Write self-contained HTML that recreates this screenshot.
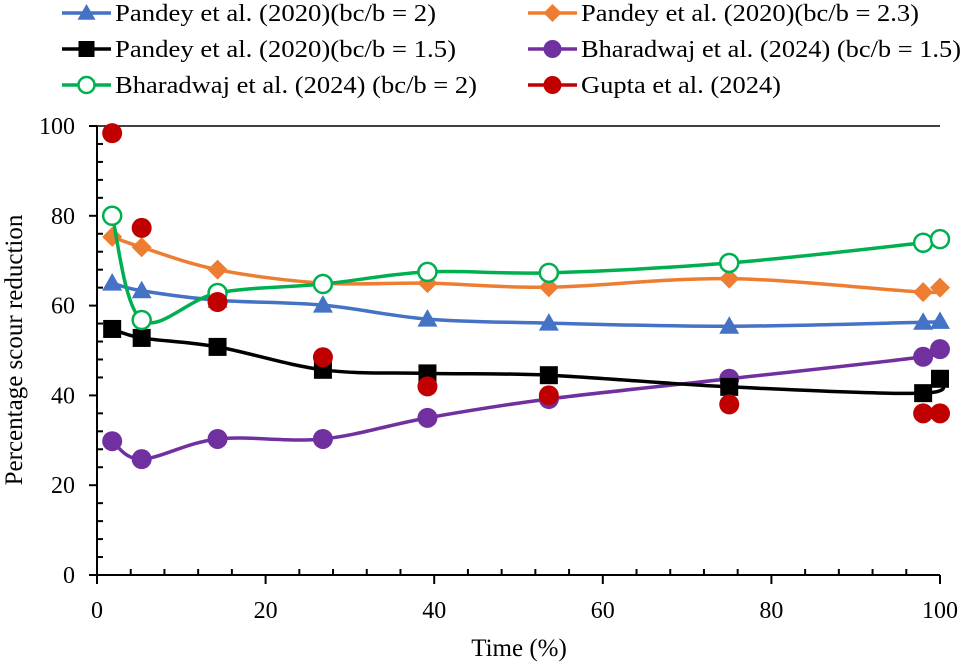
<!DOCTYPE html>
<html><head><meta charset="utf-8"><style>
body{margin:0;background:#fff;}
svg text{font-family:"Liberation Serif",serif;}
</style></head><body>
<svg id="chart" width="964" height="664" xmlns="http://www.w3.org/2000/svg">
<g id="legend"></g>
<g id="axes"></g>
<g id="series"></g>
<text x="519" y="656" font-size="25" text-anchor="middle">Time (%)</text>
<text transform="translate(22,350) rotate(-90)" font-size="25" text-anchor="middle">Percentage scour reduction</text>
</svg>
<script>
const xs = [1.8, 5.3, 14.3, 26.8, 39.2, 53.6, 75, 98, 100];
const pandey2 = [65, 63.3, 61.2, 60.1, 57.0, 56.1, 55.4, 56.3, 56.5];
const pandey23 = [75.3, 73, 68, 65, 65.0, 64.1, 66, 63, 64];
const pandey15 = [54.8, 52.8, 50.8, 45.7, 44.9, 44.5, 41.9, 40.5, 43.7];
const bhar15 = [29.8, 25.8, 30.3, 30.3, 35, 39.2, 43.7, 48.6, 50.3];
const bhar2 = [80, 56.8, 62.8, 64.8, 67.5, 67.3, 69.5, 74, 74.8];
const gupta = [98.4, 77.3, 60.8, 48.5, 42, 40, 38, 36, 36];
const xTicks = [0, 20, 40, 60, 80, 100];
const yTicks = [0, 20, 40, 60, 80, 100];
const X0=97, X1=940, Y0=575, Y1=126;
const sx = v => X0 + (X1-X0)*v/100;
const sy = v => Y0 - (Y0-Y1)*v/100;
const NS="http://www.w3.org/2000/svg";
function mk(tag, attrs, parent){const e=document.createElementNS(NS,tag);for(const k in attrs)e.setAttribute(k,attrs[k]);parent.appendChild(e);return e;}
const axes=document.getElementById('axes');
const ax=mk('path',{d:`M${X0},${Y1}V${Y0}H${X1}`,stroke:'#000','stroke-width':2,fill:'none'},axes);


const fr=mk('path',{d:`M${X0},${Y1}H${X1}`,stroke:'#000','stroke-width':1.5,fill:'none'},axes);


for(let v=0; v<=100; v+=4){
  const major = v%20===0;
  const t=mk('line',{x1:major?X0-8:X0,x2:major?X0:X0+6,y1:sy(v),y2:sy(v),stroke:'#000','stroke-width':2},axes);
  
  
  const u=mk('line',{x1:sx(v),x2:sx(v),y1:major?Y0:Y0-6,y2:major?Y0+9:Y0,stroke:'#000','stroke-width':2},axes);
  
  
}
yTicks.forEach(v=>{
  const t=mk('text',{x:X0-22,y:sy(v)+8,'font-size':24,'text-anchor':'end'},axes);t.textContent=v;
  
  
});
xTicks.forEach(v=>{
  const t=mk('text',{x:sx(v),y:Y0+43,'font-size':24,'text-anchor':'middle'},axes);t.textContent=v;
  
  
});
function smooth(pts){
  let d=`M${pts[0][0]},${pts[0][1]}`;
  for(let i=0;i<pts.length-1;i++){
    const p0=pts[i-1]||pts[i],p1=pts[i],p2=pts[i+1],p3=pts[i+2]||p2;
    const c1=[p1[0]+(p2[0]-p0[0])/6,p1[1]+(p2[1]-p0[1])/6];
    const c2=[p2[0]-(p3[0]-p1[0])/6,p2[1]-(p3[1]-p1[1])/6];
    d+=`C${c1[0]},${c1[1]} ${c2[0]},${c2[1]} ${p2[0]},${p2[1]}`;
  }
  return d;
}
function marker(g,type,x,y,color,s){
  let e;
  if(type==='tri') e=mk('path',{d:`M${x},${y-s}L${x+s},${y+s*0.75}L${x-s},${y+s*0.75}Z`,fill:color},g);
  else if(type==='dia') e=mk('path',{d:`M${x},${y-s}L${x+s},${y}L${x},${y+s}L${x-s},${y}Z`,fill:color},g);
  else if(type==='sq') e=mk('rect',{x:x-s,y:y-s,width:2*s,height:2*s,fill:color},g);
  else if(type==='ring') e=mk('circle',{cx:x,cy:y,r:s-1,fill:'#fff',stroke:color,'stroke-width':2.5},g);
  else e=mk('circle',{cx:x,cy:y,r:s,fill:color},g);
  
  
}
const seriesDefs=[
 {name:'pandey-2',vals:pandey2,color:'#4472C4',m:'tri',s:10,line:true,label:'Pandey et al. (2020)(bc/b = 2)',w:321},
 {name:'pandey-2-3',vals:pandey23,color:'#ED7D31',m:'dia',s:10,line:true,label:'Pandey et al. (2020)(bc/b = 2.3)',w:338},
 {name:'pandey-1-5',vals:pandey15,color:'#000000',m:'sq',s:9,line:true,label:'Pandey et al. (2020)(bc/b = 1.5)',w:341},
 {name:'bharadwaj-1-5',vals:bhar15,color:'#7030A0',m:'dot',s:10,line:true,label:'Bharadwaj et al. (2024) (bc/b = 1.5)',w:380},
 {name:'bharadwaj-2',vals:bhar2,color:'#00B050',m:'ring',s:10,line:true,label:'Bharadwaj et al. (2024) (bc/b = 2)',w:362},
 {name:'gupta',vals:gupta,color:'#C00000',m:'dot',s:10,line:false,label:'Gupta et al. (2024)',w:200}
];
const sg=document.getElementById('series');
const order=[3,2,0,1,4,5];
order.forEach(i=>{
  const sd=seriesDefs[i];
  const g=mk('g',{},sg);
  
  
  const pts=xs.map((x,j)=>[sx(x),sy(sd.vals[j])]);
  if(sd.line){
    const p=mk('path',{d:smooth(pts),stroke:sd.color,'stroke-width':3.5,fill:'none'},g);
    
    
  }
  pts.forEach(p=>marker(g,sd.m,p[0],p[1],sd.color,sd.s));
});
const lg=document.getElementById('legend');
const lpos=[[62,13],[528,13],[62,49],[528,49],[62,85],[528,85]];
seriesDefs.forEach((sd,i)=>{
  const [x,y]=lpos[i];
  const g=mk('g',{},lg);
  
  
  mk('line',{x1:x,x2:x+49,y1:y,y2:y,stroke:sd.color,'stroke-width':3.5},g);
  marker(g,sd.m,x+24.5,y,sd.color,sd.m==='sq'?8:9);
  const t=mk('text',{x:x+53,y:y+8,'font-size':24,textLength:sd.w,lengthAdjust:'spacingAndGlyphs'},g);t.textContent=sd.label;
  
  
});
</script>
</body></html>
